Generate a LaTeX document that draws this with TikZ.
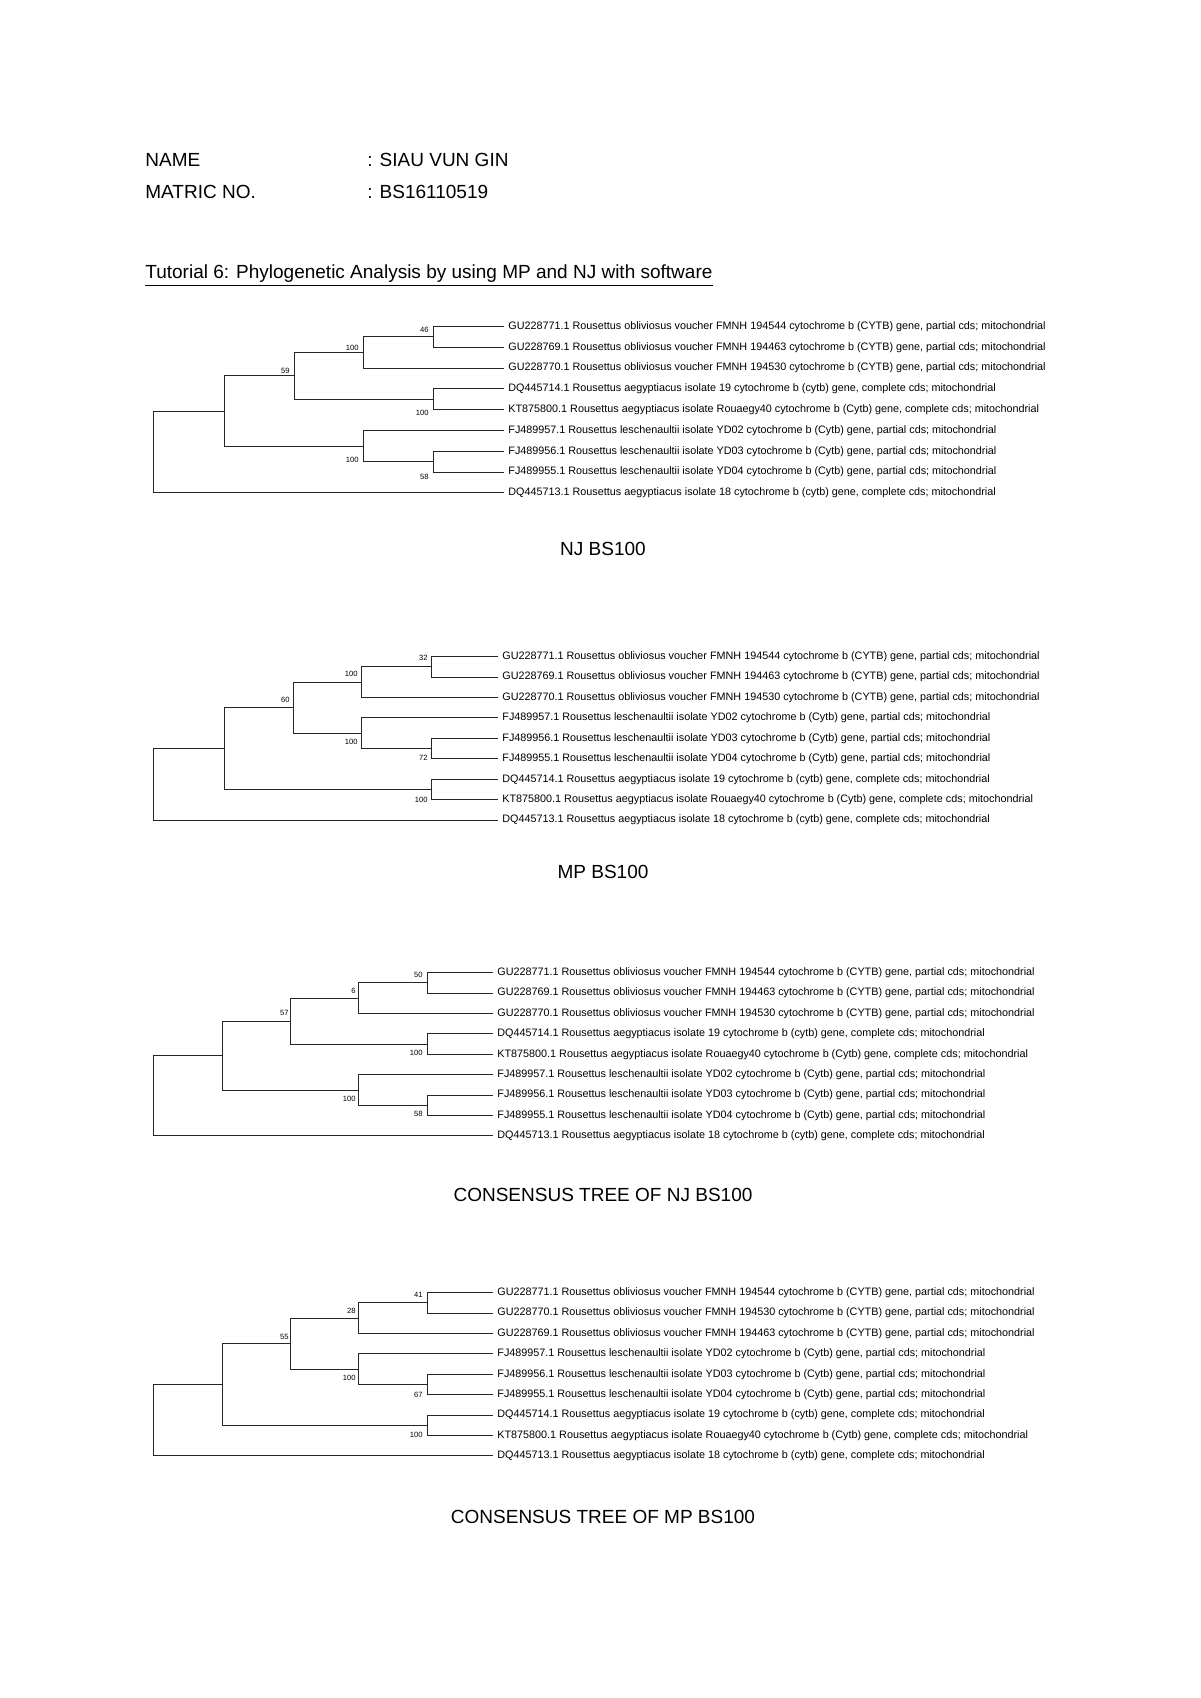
\documentclass[tikz,border=0pt]{standalone}
\usepackage{fontspec}
\setmainfont{Liberation Sans}
\newcommand\tGUa{GU228771.1 Rousettus obliviosus voucher FMNH 194544 cytochrome b (CYTB) gene, partial cds; mitochondrial}
\newcommand\tGUb{GU228769.1 Rousettus obliviosus voucher FMNH 194463 cytochrome b (CYTB) gene, partial cds; mitochondrial}
\newcommand\tGUc{GU228770.1 Rousettus obliviosus voucher FMNH 194530 cytochrome b (CYTB) gene, partial cds; mitochondrial}
\newcommand\tDQa{DQ445714.1 Rousettus aegyptiacus isolate 19 cytochrome b (cytb) gene, complete cds; mitochondrial}
\newcommand\tKT{KT875800.1 Rousettus aegyptiacus isolate Rouaegy40 cytochrome b (Cytb) gene, complete cds; mitochondrial}
\newcommand\tFJa{FJ489957.1 Rousettus leschenaultii isolate YD02 cytochrome b (Cytb) gene, partial cds; mitochondrial}
\newcommand\tFJb{FJ489956.1 Rousettus leschenaultii isolate YD03 cytochrome b (Cytb) gene, partial cds; mitochondrial}
\newcommand\tFJc{FJ489955.1 Rousettus leschenaultii isolate YD04 cytochrome b (Cytb) gene, partial cds; mitochondrial}
\newcommand\tDQb{DQ445713.1 Rousettus aegyptiacus isolate 18 cytochrome b (cytb) gene, complete cds; mitochondrial}
\begin{document}
\begin{tikzpicture}[x=0.5pt,y=-0.5pt,
  tip/.style={anchor=west,inner xsep=2pt,inner ysep=0pt,font=\fontsize{5.4}{6}\selectfont},
  bs/.style={anchor=east,inner sep=0pt,font=\fontsize{3.8}{4}\selectfont},
  br/.style={line width=0.5pt,draw=black!85},
  head/.style={anchor=west,inner sep=0pt,font=\fontsize{9.5}{11}\selectfont},
  ttl/.style={inner sep=0pt,font=\fontsize{9.5}{11}\selectfont}]
\useasboundingbox (0,0) rectangle (1200,1698);
% header
\node[head] (nm) at (145,160) {NAME};
\node[head] (nmv) at (367,160) {: SIAU VUN GIN};
\node[head] (mt) at (145,192) {MATRIC NO.};
\node[head] (mtv) at (367,192) {: BS16110519};
\node[head] (tut) at (145,274) {Tutorial 6: Phylogenetic Analysis by using MP and NJ with software};
\draw[line width=0.6pt] ([yshift=-1.2pt]tut.south west) -- ([yshift=-1.2pt]tut.south east);

% ---------- Tree 1 (NJ)
\foreach \n/\y/\t in {0/326.5/\tGUa,1/347.3/\tGUb,2/368.1/\tGUc,3/388.9/\tDQa,4/409.7/\tKT,5/430.5/\tFJa,6/451.3/\tFJb,7/472.1/\tFJc,8/492.9/\tDQb}
  \node[tip] (A\n) at (504,\y) {\t};
\coordinate (Aa) at (433,336.9); \coordinate (Ab) at (363,352.5);
\coordinate (Ac) at (433,399.3); \coordinate (Ad) at (294,375.9);
\coordinate (Ae) at (433,461.7); \coordinate (Af) at (363,446.1);
\coordinate (Ag) at (224,411); \coordinate (Ar) at (153,452);
\draw[br] (Aa) |- (A0.west) (Aa) |- (A1.west) (Ab) |- (Aa) (Ab) |- (A2.west)
  (Ac) |- (A3.west) (Ac) |- (A4.west) (Ad) |- (Ab) (Ad) |- (Ac)
  (Ae) |- (A6.west) (Ae) |- (A7.west) (Af) |- (A5.west) (Af) |- (Ae)
  (Ag) |- (Ad) (Ag) |- (Af) (Ar) |- (Ag) (Ar) |- (A8.west);
\node[bs] (Al1) at (429,330) {46};
\node[bs] (Al2) at (359,348) {100};
\node[bs] (Al3) at (290,371) {59};
\node[bs] (Al4) at (429,413) {100};
\node[bs] (Al5) at (359,460) {100};
\node[bs] (Al6) at (429,477) {58};
\node[ttl] (At) at (603,548.5) {NJ BS100};

% ---------- Tree 2 (MP)
\foreach \n/\y/\t in {0/656.5/\tGUa,1/677/\tGUb,2/697.4/\tGUc,3/717.9/\tFJa,4/738.3/\tFJb,5/758.8/\tFJc,6/779.2/\tDQa,7/799.7/\tKT,8/820.1/\tDQb}
  \node[tip] (B\n) at (498,\y) {\t};
\coordinate (Ba) at (431,666.7); \coordinate (Bb) at (361,682.1);
\coordinate (Bc) at (431,748.5); \coordinate (Bd) at (361,733.2);
\coordinate (Be) at (293,707.6); \coordinate (Bf) at (431,789.4);
\coordinate (Bg) at (224,748.5); \coordinate (Br) at (153,784.3);
\draw[br] (Ba) |- (B0.west) (Ba) |- (B1.west) (Bb) |- (Ba) (Bb) |- (B2.west)
  (Bc) |- (B4.west) (Bc) |- (B5.west) (Bd) |- (B3.west) (Bd) |- (Bc)
  (Be) |- (Bb) (Be) |- (Bd) (Bf) |- (B6.west) (Bf) |- (B7.west)
  (Bg) |- (Be) (Bg) |- (Bf) (Br) |- (Bg) (Br) |- (B8.west);
\node[bs] (Bl1) at (428,658) {32};
\node[bs] (Bl2) at (358,674) {100};
\node[bs] (Bl3) at (290,700) {60};
\node[bs] (Bl4) at (358,742) {100};
\node[bs] (Bl5) at (428,758) {72};
\node[bs] (Bl6) at (428,800) {100};
\node[ttl] (Bt) at (603,872) {MP BS100};

% ---------- Tree 3 (consensus NJ)
\foreach \n/\y/\t in {0/972.7/\tGUa,1/993.1/\tGUb,2/1013.5/\tGUc,3/1033.9/\tDQa,4/1054.3/\tKT,5/1074.7/\tFJa,6/1095.1/\tFJb,7/1115.5/\tFJc,8/1135.9/\tDQb}
  \node[tip] (C\n) at (493,\y) {\t};
\coordinate (Ca) at (427,982.9); \coordinate (Cb) at (358,998.2);
\coordinate (Cc) at (427,1044.1); \coordinate (Cd) at (290,1021.2);
\coordinate (Ce) at (427,1105.3); \coordinate (Cf) at (358,1090);
\coordinate (Cg) at (222,1055.6); \coordinate (Cr) at (153,1095.8);
\draw[br] (Ca) |- (C0.west) (Ca) |- (C1.west) (Cb) |- (Ca) (Cb) |- (C2.west)
  (Cc) |- (C3.west) (Cc) |- (C4.west) (Cd) |- (Cb) (Cd) |- (Cc)
  (Ce) |- (C6.west) (Ce) |- (C7.west) (Cf) |- (C5.west) (Cf) |- (Ce)
  (Cg) |- (Cd) (Cg) |- (Cf) (Cr) |- (Cg) (Cr) |- (C8.west);
\node[bs] (Cl1) at (423,975) {50};
\node[bs] (Cl2) at (356,991) {6};
\node[bs] (Cl3) at (289,1013) {57};
\node[bs] (Cl4) at (423,1053) {100};
\node[bs] (Cl5) at (356,1099) {100};
\node[bs] (Cl6) at (423,1114) {58};
\node[ttl] (Ct) at (603,1195) {CONSENSUS TREE OF NJ BS100};

% ---------- Tree 4 (consensus MP)
\foreach \n/\y/\t in {0/1292.7/\tGUa,1/1313.1/\tGUc,2/1333.5/\tGUb,3/1353.9/\tFJa,4/1374.3/\tFJb,5/1394.7/\tFJc,6/1415.1/\tDQa,7/1435.5/\tKT,8/1455.9/\tDQb}
  \node[tip] (D\n) at (493,\y) {\t};
\coordinate (Da) at (427,1302.9); \coordinate (Db) at (358,1318.2);
\coordinate (Dc) at (427,1384.5); \coordinate (Dd) at (358,1369.2);
\coordinate (De) at (290,1343.7); \coordinate (Df) at (427,1425.3);
\coordinate (Dg) at (222,1384.5); \coordinate (Dr) at (153,1420.2);
\draw[br] (Da) |- (D0.west) (Da) |- (D1.west) (Db) |- (Da) (Db) |- (D2.west)
  (Dc) |- (D4.west) (Dc) |- (D5.west) (Dd) |- (D3.west) (Dd) |- (Dc)
  (De) |- (Db) (De) |- (Dd) (Df) |- (D6.west) (Df) |- (D7.west)
  (Dg) |- (De) (Dg) |- (Df) (Dr) |- (Dg) (Dr) |- (D8.west);
\node[bs] (Dl1) at (423,1295) {41};
\node[bs] (Dl2) at (356,1311) {28};
\node[bs] (Dl3) at (289,1337) {55};
\node[bs] (Dl4) at (356,1378) {100};
\node[bs] (Dl5) at (423,1395) {67};
\node[bs] (Dl6) at (423,1435) {100};
\node[ttl] (Dt) at (603,1517) {CONSENSUS TREE OF MP BS100};
\end{tikzpicture}
\end{document}
